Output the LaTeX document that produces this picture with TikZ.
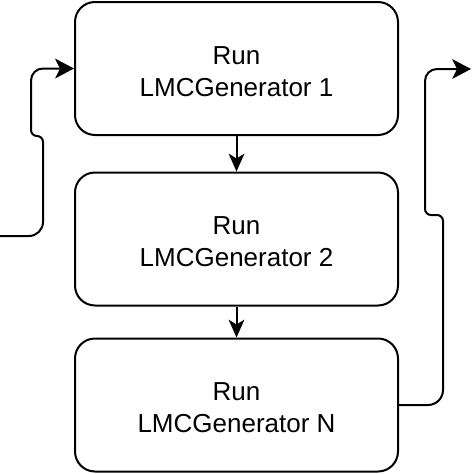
\documentclass[tikz,border=0pt]{standalone}
\usepackage{fontspec}
\setmainfont{Liberation Sans}
\begin{document}
\begin{tikzpicture}[x=1pt,y=-1pt,
  genbox/.style={draw=black,line width=2pt,rounded corners=20pt,fill=white,
    minimum width=323pt,minimum height=133pt,align=center,inner sep=0pt,
    font=\fontsize{26pt}{32pt}\selectfont},
  conn/.style={draw=black,line width=2pt,shorten >=12pt},
  headdown/.style={fill=black},
  headright/.style={fill=black}]
\useasboundingbox (0,0) rectangle (474,474);
\fill[white] (0,0) rectangle (474,474);
\node[genbox] (b1) at (236.5,68.5) {\rule{0pt}{24pt}Run\\LMCGenerator 1};
\node[genbox] (b2) at (236.5,239) {\rule{0pt}{24pt}Run\\LMCGenerator 2};
\node[genbox] (b3) at (236.5,405) {\rule{0pt}{24pt}Run\\LMCGenerator N};
\coordinate (lstart) at (0,236);
\coordinate (rend) at (471,69);
% straight connectors
\draw[conn] (b1) -- (b2);
\draw[conn] (b2) -- (b3);
\fill[headdown] (b2.north) -- ++(-8,-18) -- ++(8,5) -- ++(8,-5) -- cycle;
\fill[headdown] (b3.north) -- ++(-8,-18) -- ++(8,5) -- ++(8,-5) -- cycle;
% loop connectors
\draw[conn,rounded corners=14pt] (lstart) -- (43,236)
  [rounded corners=6pt] -- (43,136) -- (31,136)
  [rounded corners=12pt] -- (31,68.5) -- (b1.west);
\fill[headright] (b1.west) -- ++(-19,-10) -- ++(5,10) -- ++(-5,10) -- cycle;
\draw[conn,rounded corners=15pt] (b3.east) -- (443,405)
  [rounded corners=6pt] -- (443,215) -- (425,215)
  [rounded corners=12pt] -- (425,69) -- (rend);
\fill[headright] (rend) -- ++(-19,-10) -- ++(5,10) -- ++(-5,10) -- cycle;
\end{tikzpicture}
\end{document}
